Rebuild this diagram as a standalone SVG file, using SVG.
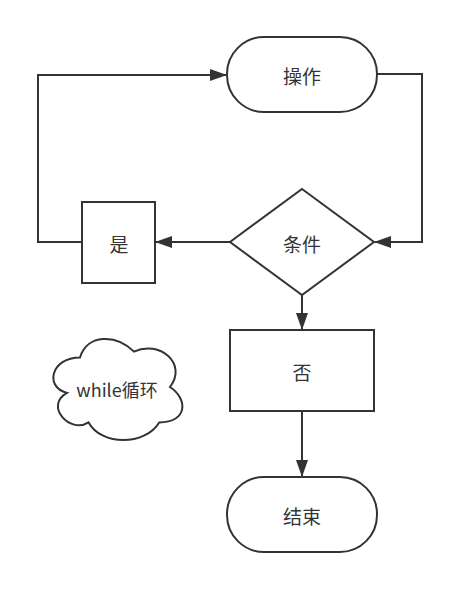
<svg xmlns="http://www.w3.org/2000/svg" width="459" height="589" viewBox="0 0 459 589">
<style>
.s{fill:#fff;stroke:#333;stroke-width:2}
.c{fill:none;stroke:#333;stroke-width:2}
.t{font-family:"Noto Sans CJK SC","Liberation Sans",sans-serif;font-size:19px;fill:#333;text-anchor:middle;dominant-baseline:central}
.w{font-size:18px}
</style>
<defs>
<marker id="a" markerWidth="17" markerHeight="12" refX="16" refY="6" orient="auto" markerUnits="userSpaceOnUse">
<path d="M0,0 L17,6 L0,12 Z" fill="#333"/>
</marker>
</defs>
<rect width="459" height="589" fill="#fff"/>
<g id="connectors">
<path class="c" d="M82,242 H38 V75 H226" marker-end="url(#a)"/>
<path class="c" d="M377,74 H422 V242 H375" marker-end="url(#a)"/>
<path class="c" d="M230,242 H156" marker-end="url(#a)"/>
<path class="c" d="M302,294 V329" marker-end="url(#a)"/>
<path class="c" d="M302,411 V476" marker-end="url(#a)"/>
</g>
<g id="op"><rect class="s" x="227" y="37" width="150" height="75" rx="37" ry="37"/><text class="t" x="302" y="75">操作</text></g>
<g id="cond"><path class="s" d="M302,189 L374,242 L302,295 L230,242 Z"/><text class="t" x="302" y="243">条件</text></g>
<g id="yes"><rect class="s" x="82" y="202" width="73" height="81"/><text class="t" x="119" y="243">是</text></g>
<g id="no"><rect class="s" x="230" y="330" width="144" height="81"/><text class="t" x="302" y="371">否</text></g>
<g id="end"><rect class="s" x="227" y="477" width="150" height="75" rx="37" ry="37"/><text class="t" x="302" y="515">结束</text></g>
<g id="cloud"><path class="s" d="M80,357.5 C51.2,357.5 44,387 67,392.9 C44,405.9 69.9,434.2 88.6,422.4 C101.6,446 144.8,446 159.2,422.4 C188,422.4 188,398.8 170,387 C188,363.4 159.2,339.8 134,351.6 C116,333.9 87.2,333.9 80,357.5 Z"/><text class="t w" x="117" y="389">while循环</text></g>
</svg>
